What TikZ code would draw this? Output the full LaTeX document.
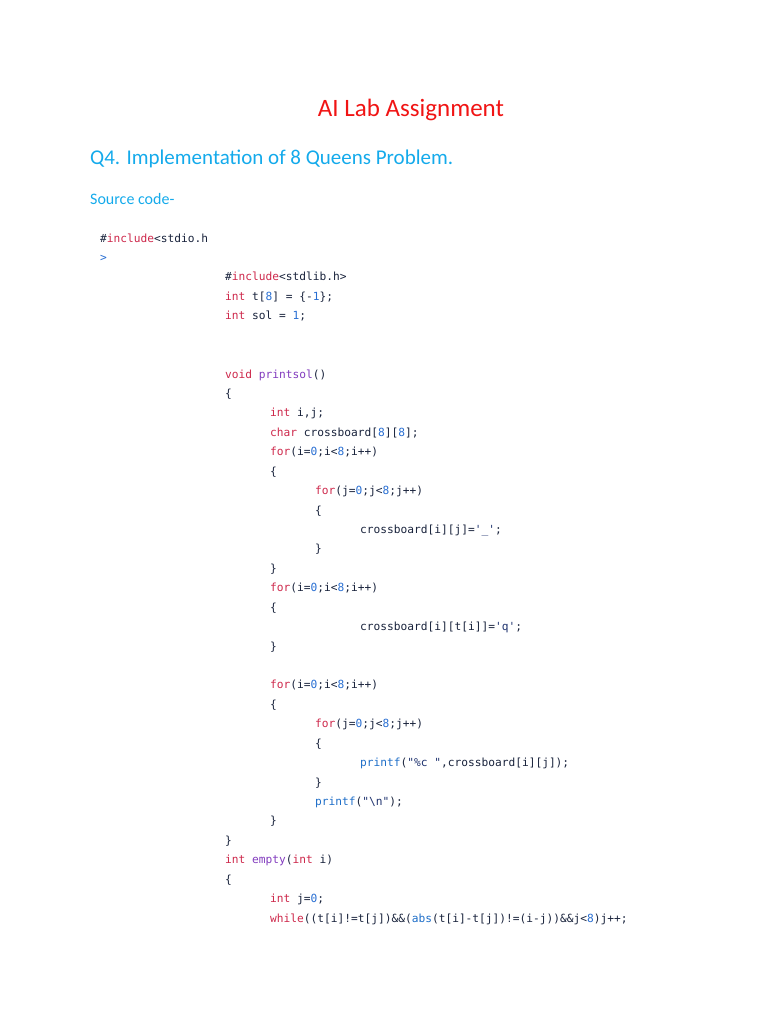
\documentclass[tikz,border=0pt]{standalone}
\usepackage{fontspec}
\setmainfont{Carlito}
\setmonofont{DejaVu Sans Mono}
\definecolor{kw}{RGB}{205,40,75}
\definecolor{nm}{RGB}{40,110,210}
\definecolor{fn}{RGB}{130,60,190}
\definecolor{pf}{RGB}{30,110,200}
\definecolor{st}{RGB}{30,50,110}
\definecolor{tx}{RGB}{25,35,60}
\definecolor{ttl}{RGB}{240,20,20}
\definecolor{hd}{RGB}{20,170,235}
\newcommand{\cK}[1]{\textcolor{kw}{#1}}
\newcommand{\cN}[1]{\textcolor{nm}{#1}}
\newcommand{\cF}[1]{\textcolor{fn}{#1}}
\newcommand{\cP}[1]{\textcolor{pf}{#1}}
\newcommand{\cS}[1]{\textcolor{st}{#1}}
\tikzset{code/.style={anchor=base west,inner sep=0pt,font=\ttfamily\fontsize{11.2}{13}\selectfont,text=tx}}
\begin{document}
\begin{tikzpicture}[x=1pt,y=-1pt]
\useasboundingbox (0,0) rectangle (768,1024);
\node[anchor=center,text=ttl,font=\fontsize{25}{30}\selectfont] (title) at (411,110) {AI Lab Assignment};
\node[anchor=base west,inner sep=0pt,text=hd,font=\fontsize{21}{25}\selectfont] (q4) at (90,165) {Q4. Implementation of 8 Queens Problem.};
\node[anchor=base west,inner sep=0pt,text=hd,font=\fontsize{16}{19}\selectfont] (src) at (90,205) {Source code-};
\def\ls{19.43}
\def\bl{242}
\newcommand{\Ln}[4]{\node[code] (#1) at (#2,\bl+#3*\ls) {#4};}
\Ln{l0}{100}{0}{\#\cK{include}<stdio.h}
\Ln{l1}{100}{1}{\cN{>}}
\Ln{l2}{225}{2}{\#\cK{include}<stdlib.h>}
\Ln{l3}{225}{3}{\cK{int} t[\cN{8}] = \{-\cN{1}\};}
\Ln{l4}{225}{4}{\cK{int} sol = \cN{1};}
\Ln{l7}{225}{7}{\cK{void} \cF{printsol}()}
\Ln{l8}{225}{8}{\{}
\Ln{l9}{270}{9}{\cK{int} i,j;}
\Ln{l10}{270}{10}{\cK{char} crossboard[\cN{8}][\cN{8}];}
\Ln{l11}{270}{11}{\cK{for}(i=\cN{0};i<\cN{8};i++)}
\Ln{l12}{270}{12}{\{}
\Ln{l13}{315}{13}{\cK{for}(j=\cN{0};j<\cN{8};j++)}
\Ln{l14}{315}{14}{\{}
\Ln{l15}{360}{15}{crossboard[i][j]=\cS{'\_'};}
\Ln{l16}{315}{16}{\}}
\Ln{l17}{270}{17}{\}}
\Ln{l18}{270}{18}{\cK{for}(i=\cN{0};i<\cN{8};i++)}
\Ln{l19}{270}{19}{\{}
\Ln{l20}{360}{20}{crossboard[i][t[i]]=\cS{'q'};}
\Ln{l21}{270}{21}{\}}
\Ln{l23}{270}{23}{\cK{for}(i=\cN{0};i<\cN{8};i++)}
\Ln{l24}{270}{24}{\{}
\Ln{l25}{315}{25}{\cK{for}(j=\cN{0};j<\cN{8};j++)}
\Ln{l26}{315}{26}{\{}
\Ln{l27}{360}{27}{\cP{printf}(\cS{"\%c "},crossboard[i][j]);}
\Ln{l28}{315}{28}{\}}
\Ln{l29}{315}{29}{\cP{printf}(\cS{"\textbackslash n"});}
\Ln{l30}{270}{30}{\}}
\Ln{l31}{225}{31}{\}}
\Ln{l32}{225}{32}{\cK{int} \cF{empty}(\cK{int} i)}
\Ln{l33}{225}{33}{\{}
\Ln{l34}{270}{34}{\cK{int} j=\cN{0};}
\Ln{l35}{270}{35}{\cK{while}((t[i]!=t[j])\&\&(\cP{abs}(t[i]-t[j])!=(i-j))\&\&j<\cN{8})j++;}
\end{tikzpicture}
\end{document}
